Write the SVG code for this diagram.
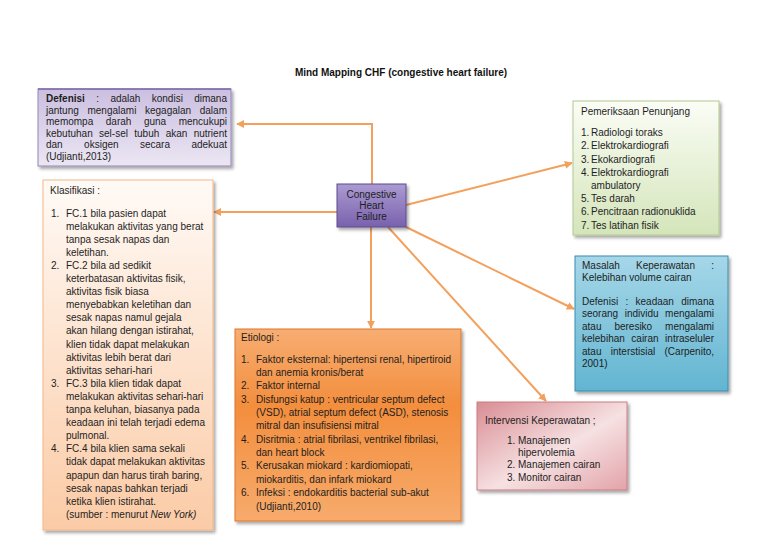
<svg xmlns="http://www.w3.org/2000/svg" width="768" height="544" viewBox="0 0 768 544">
<defs>
<style>
text{font-family:"Liberation Sans",Arial,sans-serif;font-size:10px;fill:#1e1e1e}
.title{font-weight:bold;text-anchor:middle;fill:#111}
.c{text-anchor:middle}
.conn{fill:none;stroke:#f3a05c;stroke-width:2}
</style>
<filter id="sh" x="-10%" y="-10%" width="130%" height="130%">
<feDropShadow dx="2" dy="2.5" stdDeviation="1.5" flood-color="#000" flood-opacity="0.35"/>
</filter>
<linearGradient id="gDef" x1="0" y1="0" x2="0" y2="1"><stop offset="0" stop-color="#cbbfe0"/><stop offset="1" stop-color="#ebe6f3"/></linearGradient>
<linearGradient id="gChf" x1="0" y1="0" x2="0" y2="1"><stop offset="0" stop-color="#ab9bd2"/><stop offset="1" stop-color="#7961ad"/></linearGradient>
<linearGradient id="gKla" x1="0" y1="0" x2="0" y2="1"><stop offset="0" stop-color="#fffaf6"/><stop offset="1" stop-color="#fbcba6"/></linearGradient>
<linearGradient id="gEti" x1="0" y1="0" x2="0" y2="1"><stop offset="0" stop-color="#f7ad72"/><stop offset="0.4" stop-color="#f38e3d"/><stop offset="1" stop-color="#f7ab6c"/></linearGradient>
<linearGradient id="gPem" x1="0" y1="0" x2="0" y2="1"><stop offset="0" stop-color="#fbfdf6"/><stop offset="1" stop-color="#d4e5ba"/></linearGradient>
<linearGradient id="gMas" x1="0" y1="0" x2="0" y2="1"><stop offset="0" stop-color="#a6d7e8"/><stop offset="1" stop-color="#62b5d1"/></linearGradient>
<linearGradient id="gInt" x1="0" y1="0" x2="1" y2="1"><stop offset="0" stop-color="#d98d94"/><stop offset="0.55" stop-color="#f6e1e2"/><stop offset="1" stop-color="#e2a3a9"/></linearGradient>
<marker id="ah" viewBox="0 0 10 10" refX="9" refY="5" markerWidth="4" markerHeight="4" orient="auto" markerUnits="strokeWidth">
<path d="M0,0 L10,5 L0,10 z" fill="#f3a05c"/>
</marker>
</defs>
<rect width="768" height="544" fill="#fff"/>
<text class="title" x="401" y="75.5">Mind Mapping CHF (congestive heart failure)</text>

<g id="connectors">
<path class="conn" d="M372,184 V124 H237" marker-end="url(#ah)"/>
<path class="conn" d="M337,212 H214" marker-end="url(#ah)"/>
<path class="conn" d="M371,227 V328" marker-end="url(#ah)"/>
<path class="conn" d="M406,205 L572,163" marker-end="url(#ah)"/>
<path class="conn" d="M406,227 L574,309" marker-end="url(#ah)"/>
<path class="conn" d="M388,227 L546,401" marker-end="url(#ah)"/>
</g>

<g id="chf">
<rect x="337" y="184" width="69" height="43" fill="url(#gChf)" stroke="#5e4b8e" stroke-width="1" filter="url(#sh)"/>
<text class="c" x="371.5" y="197.5">Congestive</text>
<text class="c" x="371.5" y="208.5">Heart</text>
<text class="c" x="371.5" y="219.5">Failure</text>
</g>

<g id="defenisi">
<rect x="38" y="89" width="193" height="77" fill="url(#gDef)" stroke="#9585ba" stroke-width="1" filter="url(#sh)"/>
<line x1="38" y1="89" x2="231" y2="89" stroke="#7d68a8" stroke-width="1.5"/>
<text y="102"><tspan x="46" font-weight="bold">Defenisi</tspan><tspan x="96.25">:</tspan><tspan x="110.4">adalah</tspan><tspan x="151.75">kondisi</tspan><tspan x="194.2">dimana</tspan></text>
<text y="113.6"><tspan x="46">jantung</tspan><tspan x="87.44">mengalami</tspan><tspan x="144.98">kegagalan</tspan><tspan x="199.76">dalam</tspan></text>
<text y="125.2"><tspan x="46">memompa</tspan><tspan x="105.77">darah</tspan><tspan x="143.88">guna</tspan><tspan x="178.66">mencukupi</tspan></text>
<text y="136.8"><tspan x="46">kebutuhan</tspan><tspan x="99.04">sel-sel</tspan><tspan x="134.27">tubuh</tspan><tspan x="165.63">akan</tspan><tspan x="193.65">nutrient</tspan></text>
<text y="148.4"><tspan x="46">dan</tspan><tspan x="84.1">oksigen</tspan><tspan x="139.98">secara</tspan><tspan x="191.41">adekuat</tspan></text>
<text x="46" y="160">(Udjianti,2013)</text>
</g>

<g id="klasifikasi">
<rect x="43" y="180" width="170" height="350" fill="url(#gKla)" stroke="#f2b788" stroke-width="1" filter="url(#sh)"/>
<text x="50" y="193.5">Klasifikasi :</text>
<text x="51" y="216.5">1.</text><text x="66" y="216.5">FC.1 bila pasien dapat</text>
<text x="66" y="229.6">melakukan aktivitas yang berat</text>
<text x="66" y="242.7">tanpa sesak napas dan</text>
<text x="66" y="255.8">keletihan.</text>
<text x="51" y="268.9">2.</text><text x="66" y="268.9">FC.2 bila ad sedikit</text>
<text x="66" y="282">keterbatasan aktivitas fisik,</text>
<text x="66" y="295.1">aktivitas fisik biasa</text>
<text x="66" y="308.2">menyebabkan keletihan dan</text>
<text x="66" y="321.3">sesak napas namul gejala</text>
<text x="66" y="334.4">akan hilang dengan istirahat,</text>
<text x="66" y="347.5">klien tidak dapat melakukan</text>
<text x="66" y="360.6">aktivitas lebih berat dari</text>
<text x="66" y="373.7">aktivitas sehari-hari</text>
<text x="51" y="386.8">3.</text><text x="66" y="386.8">FC.3 bila klien tidak dapat</text>
<text x="66" y="399.9">melakukan aktivitas sehari-hari</text>
<text x="66" y="413">tanpa keluhan, biasanya pada</text>
<text x="66" y="426.1">keadaan ini telah terjadi edema</text>
<text x="66" y="439.2">pulmonal.</text>
<text x="51" y="452.3">4.</text><text x="66" y="452.3">FC.4 bila klien sama sekali</text>
<text x="66" y="465.4">tidak dapat melakukan aktivitas</text>
<text x="66" y="478.5">apapun dan harus tirah baring,</text>
<text x="66" y="491.6">sesak napas bahkan terjadi</text>
<text x="66" y="504.7">ketika klien istirahat.</text>
<text x="66" y="517.8">(sumber : menurut <tspan font-style="italic">New York)</tspan></text>
</g>

<g id="etiologi">
<rect x="235" y="329" width="226" height="192" fill="url(#gEti)" stroke="#de772c" stroke-width="1" filter="url(#sh)"/>
<text x="241" y="340.5">Etiologi :</text>
<text x="241" y="362.5">1.</text><text x="256" y="362.5">Faktor eksternal: hipertensi renal, hipertiroid</text>
<text x="256" y="375.9">dan anemia kronis/berat</text>
<text x="241" y="389.2">2.</text><text x="256" y="389.2">Faktor internal</text>
<text x="241" y="402.6">3.</text><text x="256" y="402.6">Disfungsi katup : ventricular septum defect</text>
<text x="256" y="415.9">(VSD), atrial septum defect (ASD), stenosis</text>
<text x="256" y="429.3">mitral dan insufisiensi mitral</text>
<text x="241" y="442.7">4.</text><text x="256" y="442.7">Disritmia : atrial fibrilasi, ventrikel fibrilasi,</text>
<text x="256" y="456">dan heart block</text>
<text x="241" y="469.4">5.</text><text x="256" y="469.4">Kerusakan miokard : kardiomiopati,</text>
<text x="256" y="482.7">miokarditis, dan infark miokard</text>
<text x="241" y="496.1">6.</text><text x="256" y="496.1">Infeksi :  endokarditis bacterial sub-akut</text>
<text x="256" y="509.5">(Udjianti,2010)</text>
</g>

<g id="pemeriksaan">
<rect x="573" y="101" width="146" height="134" fill="url(#gPem)" stroke="#b3c892" stroke-width="1" filter="url(#sh)"/>
<text x="581" y="114.5">Pemeriksaan Penunjang</text>
<text x="581" y="136.2">1.</text><text x="591" y="136.2">Radiologi toraks</text>
<text x="581" y="149.4">2.</text><text x="591" y="149.4">Elektrokardiografi</text>
<text x="581" y="162.6">3.</text><text x="591" y="162.6">Ekokardiografi</text>
<text x="581" y="175.8">4.</text><text x="591" y="175.8">Elektrokardiografi</text>
<text x="591" y="189">ambulatory</text>
<text x="581" y="202.2">5.</text><text x="591" y="202.2">Tes darah</text>
<text x="581" y="215.4">6.</text><text x="591" y="215.4">Pencitraan radionuklida</text>
<text x="581" y="228.6">7.</text><text x="591" y="228.6">Tes latihan fisik</text>
</g>

<g id="masalah">
<rect x="575" y="256" width="153" height="135" fill="url(#gMas)" stroke="#3a8db0" stroke-width="1" filter="url(#sh)"/>
<text y="268.5"><tspan x="582">Masalah</tspan><tspan x="636.05">Keperawatan</tspan><tspan x="711.22">:</tspan></text>
<text x="582" y="281">Kelebihan volume cairan</text>
<text y="304.5"><tspan x="582">Defenisi</tspan><tspan x="625.44">:</tspan><tspan x="635.54">keadaan</tspan><tspan x="681.22">dimana</tspan></text>
<text y="317"><tspan x="582">seorang</tspan><tspan x="624.67">individu</tspan><tspan x="665.1">mengalami</tspan></text>
<text y="329.5"><tspan x="582">atau</tspan><tspan x="614.39">beresiko</tspan><tspan x="665.11">mengalami</tspan></text>
<text y="342"><tspan x="582">kelebihan</tspan><tspan x="631.34">cairan</tspan><tspan x="665.1">intraseluler</tspan></text>
<text y="354.5"><tspan x="582">atau</tspan><tspan x="610.78">interstisial</tspan><tspan x="664.54">(Carpenito,</tspan></text>
<text x="582" y="367">2001)</text>
</g>

<g id="intervensi">
<rect x="477" y="402" width="150" height="88" fill="url(#gInt)" stroke="#c97c85" stroke-width="1" filter="url(#sh)"/>
<text x="485" y="423.5">Intervensi Keperawatan ;</text>
<text x="507" y="443.5">1.</text><text x="518" y="443.5">Manajemen</text>
<text x="518" y="455.8">hipervolemia</text>
<text x="507" y="468.2">2.</text><text x="518" y="468.2">Manajemen cairan</text>
<text x="507" y="480.5">3.</text><text x="518" y="480.5">Monitor cairan</text>
</g>
</svg>
